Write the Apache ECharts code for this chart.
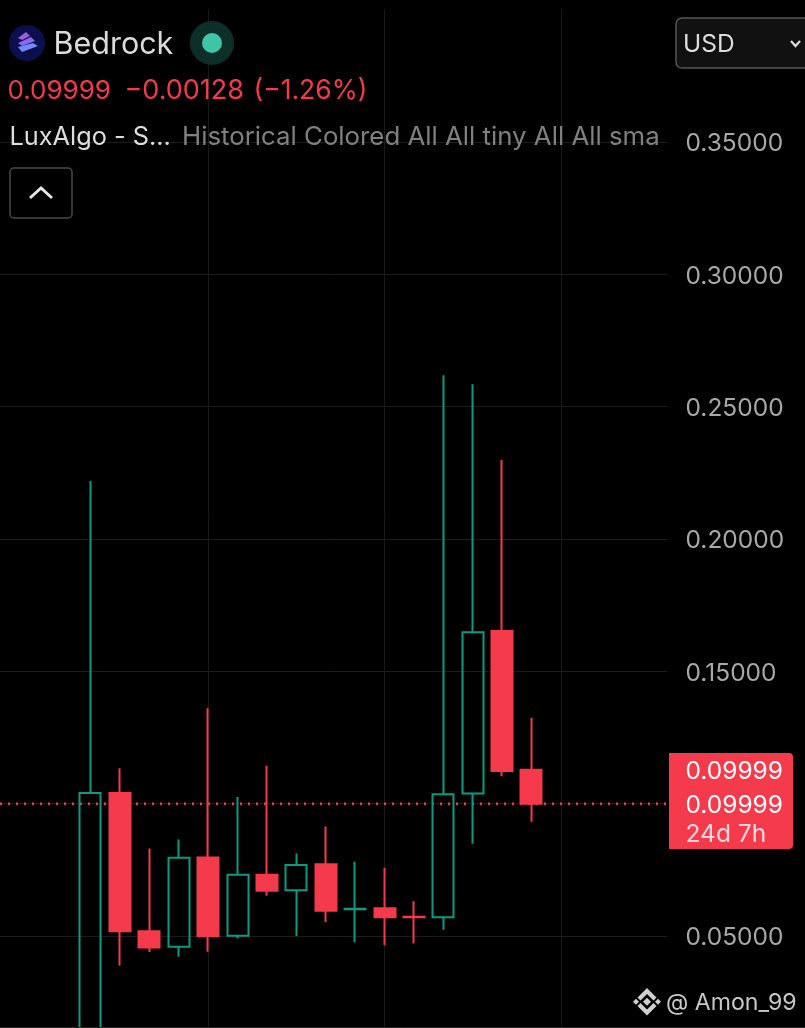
<!DOCTYPE html>
<html><head><meta charset="utf-8">
<style>html,body{margin:0;padding:0;background:#000}#c{width:805px;height:1028px}</style>
<script src="https://cdn.jsdelivr.net/npm/echarts@6/dist/echarts.min.js"></script>
</head><body><div id="c"></div>
<script>
var categories=['','','','c1','c2','c3','c4','c5','c6','c7','c8','c9','c10','c11','c12','c13','c14','c15','c16','','',''];
var opens =[0.0120,0.1040,0.0518,0.0460,0.0797,0.0501,0.0732,0.0673,0.0771,0.0601,0.0605,0.0573,0.0571,0.1039,0.1652,0.1128];
var closes=[0.1040,0.0518,0.0457,0.0796,0.0500,0.0732,0.0671,0.0768,0.0596,0.0603,0.0571,0.0571,0.1036,0.1648,0.1124,0.09999];
var lows  =[0.0080,0.0389,0.0440,0.0422,0.0441,0.0491,0.0652,0.0500,0.0553,0.0477,0.0465,0.0472,0.0524,0.0849,0.1104,0.0932];
var highs =[0.2219,0.1134,0.0831,0.0865,0.1361,0.1025,0.1143,0.0812,0.0914,0.0781,0.0758,0.0631,0.2619,0.2585,0.2298,0.1324];
var lastPrice=0.09999;
var verticalLines=[7,13,19];
var RED='#f43a4b',GREEN='#0d9a83',FONT='Inter, "Noto Sans", sans-serif';
var TOP=9.6,H=1058.8;
var candles=[['-','-','-','-'],['-','-','-','-'],['-','-','-','-']];
opens.forEach(function(o,i){candles.push([o,closes[i],lows[i],highs[i]]);});
function txt(x,y,s,size,fill,extra){var st={x:x,y:y,text:s,fontSize:size,fill:fill,fontFamily:FONT,textVerticalAlign:'middle',textAlign:'left'};for(var k in (extra||{}))st[k]=extra[k];return {type:'text',style:st,z:50};}
var yCommon={min:0,max:0.4,interval:0.05,axisLine:{show:false},axisTick:{show:false}};
var chart=echarts.init(document.getElementById('c'),null,{renderer:'canvas'});
chart.setOption({
 animation:false,backgroundColor:'#000',
 grid:[{left:0,top:TOP,width:667,height:H,outerBoundsMode:'none'},{left:2.3,top:TOP,width:29.4*(categories.length-1),height:H,outerBoundsMode:'none'}],
 xAxis:[
  {gridIndex:0,type:'value',min:0,max:1,show:false},
  {gridIndex:1,type:'category',data:categories,boundaryGap:false,axisLine:{show:false},axisTick:{show:false},axisLabel:{show:false},
   splitLine:{show:true,interval:function(i){return verticalLines.indexOf(i)>=0;},lineStyle:{color:'#191919',width:1}}}
 ],
 yAxis:[
  Object.assign({gridIndex:0,type:'value',position:'right',
   axisLabel:{show:true,showMaxLabel:false,showMinLabel:false,margin:18.5,formatter:function(v){return '{t|'+v.toFixed(5)+'}';},
    rich:{t:{padding:[4,0,0,0],fontSize:24.5,color:'#a8a8a8',fontFamily:FONT}}},
   splitLine:{show:true,showMaxLine:false,lineStyle:{color:'#1c1c1c',width:1}}},yCommon),
  Object.assign({gridIndex:1,type:'value',show:false,splitLine:{show:false}},yCommon)
 ],
 series:[
  {type:'line',xAxisIndex:0,yAxisIndex:0,data:[[0,lastPrice],[1,lastPrice]],symbol:'none',z:1,silent:true,
   lineStyle:{color:RED,width:2.4,type:[2,6]}},
  {type:'candlestick',xAxisIndex:1,yAxisIndex:1,data:candles,barWidth:21.5,z:3,
   itemStyle:{color:'transparent',color0:RED,borderColor:GREEN,borderColor0:RED,borderWidth:2}}
 ],
 graphic:[
  {type:'circle',shape:{cx:27,cy:43,r:18},style:{fill:'#0c0f4d'},z:50},
  {type:'polygon',shape:{points:[[26,32],[30,36],[22,40],[18,38]]},style:{fill:'#9a5fe0'},z:51},
  {type:'polygon',shape:{points:[[31,37],[35,41],[22,46],[18,43]]},style:{fill:'#8a68f0'},z:51},
  {type:'polygon',shape:{points:[[33,43],[38,46],[22,52],[18,47]]},style:{fill:'#6d8cf5'},z:51},
  txt(53.5,45,'Bedrock',30.5,'#dcdcdc'),
  {type:'circle',shape:{cx:212,cy:43,r:22},style:{fill:'#0e2e2a'},z:50},
  {type:'circle',shape:{cx:212,cy:43,r:10},style:{fill:'#3fc4a6'},z:51},
  txt(7.5,91,'0.09999',26,RED),
  txt(124.5,91,'\u22120.00128',27,RED),
  txt(253.5,91,'(\u22121.26%)',26.5,RED),
  txt(9.5,137,'LuxAlgo - S...',25.3,'#dedede'),
  txt(182,137,'Historical Colored All All tiny All All sma',25.8,'#808080'),
  {type:'rect',shape:{x:10,y:168,width:62,height:50,r:4},style:{fill:'#000',stroke:'#4a4a4a',lineWidth:1.5},z:50},
  {type:'polyline',shape:{points:[[30,198],[41,188],[52,198]]},style:{stroke:'#e6e6e6',lineWidth:3,fill:'none'},z:51},
  {type:'rect',shape:{x:676,y:18,width:140,height:50,r:6},style:{fill:'#111',stroke:'#555',lineWidth:1.5},z:50},
  txt(683,45,'USD',24.5,'#dedede'),
  {type:'polyline',shape:{points:[[791,41],[795.5,46],[800,41]]},style:{stroke:'#dedede',lineWidth:2.2,fill:'none'},z:51},
  {type:'rect',shape:{x:669,y:753,width:124,height:34,r:[0,4,0,0]},style:{fill:RED},z:50},
  {type:'rect',shape:{x:669,y:787,width:124,height:62,r:[0,0,4,0]},style:{fill:RED},z:50},
  txt(685.5,772,'0.09999',24.5,'#ffffff'),
  txt(685.5,806,'0.09999',24.5,'#ffffff'),
  txt(685.5,835,'24d 7h',24.5,'#ffd9dd'),
  {type:'line',shape:{x1:0,y1:1027.5,x2:805,y2:1027.5},style:{stroke:'#262626',lineWidth:1},z:50},
  {type:'polygon',shape:{points:[[647,988],[656.5,997.5],[653.5,1000.5],[647,994],[640.5,1000.5],[637.5,997.5]]},style:{fill:'#cfcfcf'},z:50},
  {type:'polygon',shape:{points:[[647,1015.4],[656.5,1005.9],[653.5,1002.9],[647,1009.4],[640.5,1002.9],[637.5,1005.9]]},style:{fill:'#cfcfcf'},z:50},
  {type:'polygon',shape:{points:[[647,997.7],[651,1001.7],[647,1005.7],[643,1001.7]]},style:{fill:'#cfcfcf'},z:50},
  {type:'polygon',shape:{points:[[636,998.7],[639,1001.7],[636,1004.7],[633,1001.7]]},style:{fill:'#cfcfcf'},z:50},
  {type:'polygon',shape:{points:[[658,998.7],[661,1001.7],[658,1004.7],[655,1001.7]]},style:{fill:'#cfcfcf'},z:50},
  txt(666,1003,'@ Amon_99',23.1,'#c8c8c8')
 ]
});
</script></body></html>
